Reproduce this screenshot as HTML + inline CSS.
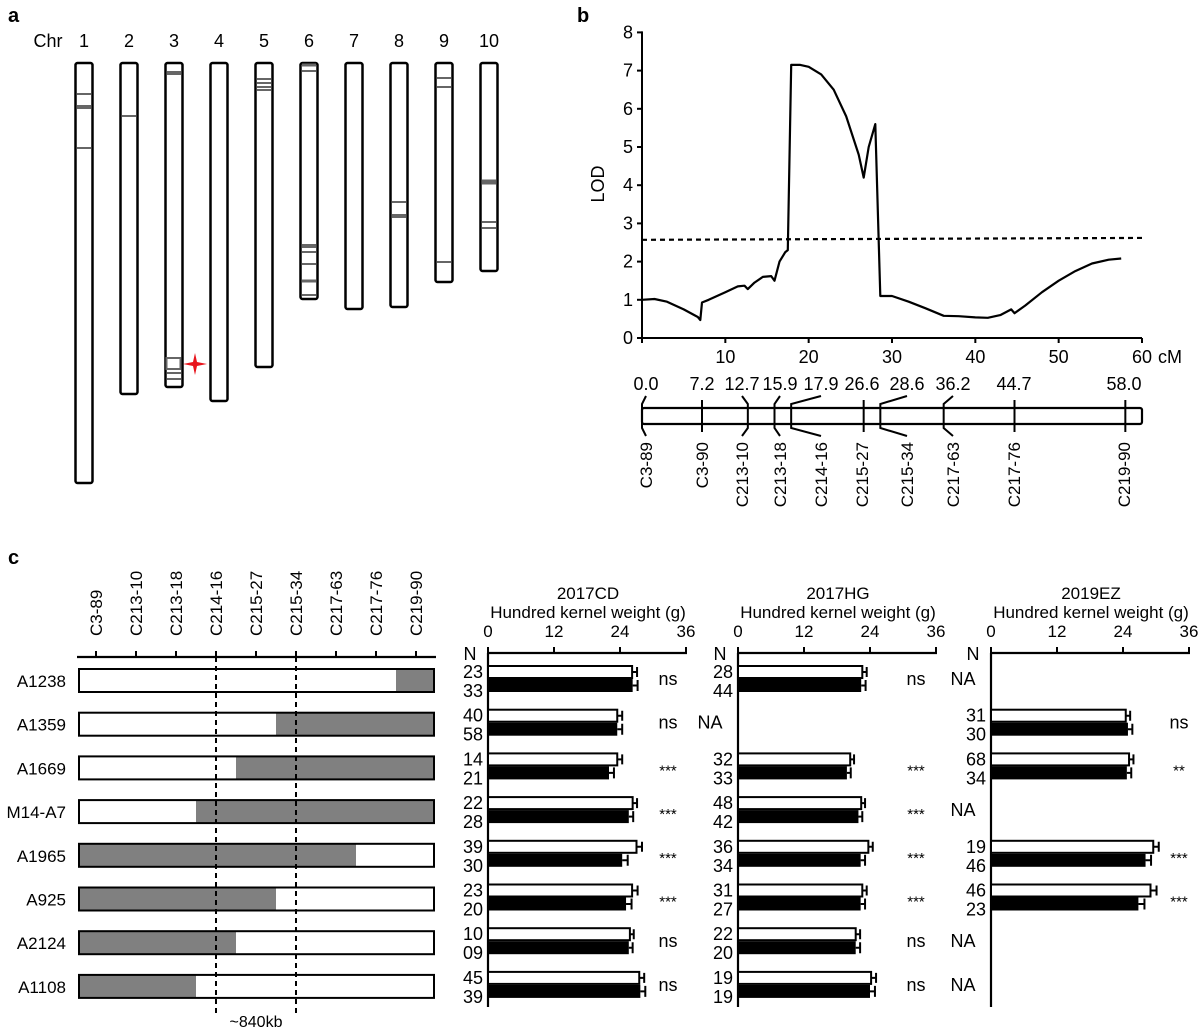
<!DOCTYPE html>
<html><head><meta charset="utf-8"><style>
html,body{margin:0;padding:0;background:#fff;}
svg{display:block;font-family:"Liberation Sans",Arial,sans-serif;}
</style></head><body>
<svg id="fig" width="1200" height="1035" viewBox="0 0 1200 1035" xmlns="http://www.w3.org/2000/svg">
<g id="pa"></g>
<g id="pb"></g>
<g id="pc"></g>
</svg>
<script>
// ===== Panel a data =====
const chrNames = ["1","2","3","4","5","6","7","8","9","10"];
const chrBottoms = [483,394,387,401,367,299,309,307,282,271];
const chrBands = [[[94,2],[107,4],[148,2]],[[116,2]],[[73,4],[373,2],[379,2]],[],[[79,2],[83,2],[87,2],[90,2]],[[65,3],[71,2],[246,4],[252,2],[264,2],[281,3],[295,2]],[],[[202,2],[216,4]],[[78,2],[87,2],[262,2]],[[182,5],[222,2],[228,2]]];
// ===== Panel b data =====
const lodCM = [0,1.5,3,5,6.7,7.0,7.2,8,10,11.5,12.3,12.7,13.5,14.5,15.5,15.9,16.5,17.2,17.5,17.9,19,20,21.5,23,24.5,26,26.6,27.2,28,28.6,30,32,34,36.2,38,40,41.5,43,44.3,44.7,46,48,50,52,54,56,57.5];
const lodVal = [1.0,1.02,0.95,0.75,0.55,0.47,0.93,1.0,1.2,1.35,1.37,1.28,1.45,1.6,1.62,1.5,2.0,2.25,2.3,7.15,7.15,7.1,6.9,6.5,5.8,4.8,4.2,5.0,5.6,1.1,1.1,0.95,0.78,0.58,0.57,0.54,0.53,0.6,0.75,0.65,0.85,1.2,1.5,1.75,1.95,2.05,2.08];
const thresholdVals = [2.57,2.62];
const yTicks = [0,1,2,3,4,5,6,7,8];
const xTicks = [10,20,30,40,50,60];
const markerCM = [0,7.2,12.7,15.9,17.9,26.6,28.6,36.2,44.7,58.0];
const markerCMLabels = ["0.0","7.2","12.7","15.9","17.9","26.6","28.6","36.2","44.7","58.0"];
const markerNames = ["C3-89","C3-90","C213-10","C213-18","C214-16","C215-27","C215-34","C217-63","C217-76","C219-90"];
// ===== Panel c data =====
const cMarkers = ["C3-89","C213-10","C213-18","C214-16","C215-27","C215-34","C217-63","C217-76","C219-90"];
const lines = ["A1238","A1359","A1669","M14-A7","A1965","A925","A2124","A1108"];
const grayFrom = [7.5,4.5,3.5,2.5,-0.5,-0.5,-0.5,-0.5];
const grayTo = [8.45,8.45,8.45,8.45,6.5,4.5,3.5,2.5];
const envNames = ["2017CD","2017HG","2019EZ"];
const hkwTicks = [0,12,24,36];
const whiteVals = [[26.2,23.5,23.5,26.3,27.0,26.2,25.8,27.5],[22.6,null,20.4,22.4,23.7,22.6,21.4,24.2],[null,24.5,25.1,null,29.5,29.0,null,null]];
const blackVals = [[26.3,23.5,22.0,25.6,24.4,25.1,25.6,27.7],[22.4,null,19.8,21.9,22.3,22.3,21.4,24.0],[null,24.9,24.7,null,28.1,26.8,null,null]];
const errVals = [[0.9,0.9,0.9,0.8,1.0,1.0,0.7,0.9],[0.8,null,0.7,0.7,0.8,0.8,0.8,0.9],[null,0.8,0.8,null,1.0,1.1,null,null]];
const whiteN = [["23","40","14","22","39","23","10","45"],["28",null,"32","48","36","31","22","19"],[null,"31","68",null,"19","46",null,null]];
const blackN = [["33","58","21","28","30","20","09","39"],["44",null,"33","42","34","27","20","19"],[null,"30","34",null,"46","23",null,null]];
const sigLabels = [["ns","ns","***","***","***","***","ns","ns"],["ns","NA","***","***","***","***","ns","ns"],["NA","ns","**","NA","***","***","NA","NA"]];

const NS="http://www.w3.org/2000/svg";
function mk(parent,tag,attrs,text){const e=document.createElementNS(NS,tag);for(const k in attrs)e.setAttribute(k,attrs[k]);if(text!==undefined)e.textContent=text;parent.appendChild(e);return e;}

// ===== Panel a =====
const pa=document.getElementById('pa');
let t=mk(pa,'text',{x:8,y:22,'font-size':20,'font-weight':'bold'},'a');


t=mk(pa,'text',{x:48,y:47,'font-size':18,'text-anchor':'middle'},'Chr');


chrNames.forEach((n,i)=>{
  const cx=84+45.0*i;
  const lt=mk(pa,'text',{x:cx,y:47,'font-size':18,'text-anchor':'middle'},n);
  
  
  const g=mk(pa,'g',{});
  
  
  mk(g,'rect',{x:cx-8.5,y:63,width:17,height:chrBottoms[i]-63,rx:2,fill:'#fff',stroke:'#000','stroke-width':2.5});
  chrBands[i].forEach(b=>{mk(g,'rect',{x:cx-7,y:b[0]-b[1]/2,width:14,height:b[1],fill:'#666'});});
});
mk(pa,'rect',{x:166.5,y:358,width:14,height:11,fill:'none',stroke:'#666','stroke-width':2});
const star=mk(pa,'path',{d:'M195,353 L197,362 L207,364 L197,366 L195,375 L193,366 L183,364 L193,362 Z',fill:'#e8141c'});



// ===== Panel b =====
const pb=document.getElementById('pb');
const bx0=642,bpx=500/60,by0=338,bpy=38.2;
const X=v=>bx0+v*bpx, Y=v=>by0-v*bpy;
t=mk(pb,'text',{x:577,y:22,'font-size':20,'font-weight':'bold'},'b');


t=mk(pb,'text',{x:604,y:184,'font-size':18,'text-anchor':'middle',transform:'rotate(-90 604 184)'},'LOD');


const ax=mk(pb,'g',{stroke:'#000','stroke-width':2,fill:'none'});


mk(ax,'line',{x1:bx0,y1:Y(8)-1,x2:bx0,y2:by0});
mk(ax,'line',{x1:bx0,y1:by0,x2:X(60),y2:by0});
yTicks.forEach(v=>{mk(ax,'line',{x1:bx0-5,y1:Y(v),x2:bx0,y2:Y(v)});
  const l=mk(pb,'text',{x:bx0-9,y:Y(v)+6,'font-size':18,'text-anchor':'end'},String(v));
  
  });
mk(ax,'line',{x1:bx0,y1:by0,x2:bx0,y2:by0+5});
xTicks.forEach(v=>{mk(ax,'line',{x1:X(v),y1:by0,x2:X(v),y2:by0+5});
  const l=mk(pb,'text',{x:X(v),y:by0+25,'font-size':18,'text-anchor':'middle'},String(v));
  
  });
t=mk(pb,'text',{x:X(60)+16,y:by0+25,'font-size':18},'cM');


const thr=mk(pb,'line',{x1:X(0),y1:Y(thresholdVals[0]),x2:X(60),y2:Y(thresholdVals[1]),stroke:'#000','stroke-width':2.2,'stroke-dasharray':'5,4'});


const lp=mk(pb,'path',{d:lodCM.map((c,i)=>(i?'L':'M')+X(c).toFixed(1)+','+Y(lodVal[i]).toFixed(1)).join(' '),fill:'none',stroke:'#000','stroke-width':2.2,'stroke-linejoin':'round'});


const mapG=mk(pb,'g',{});


mk(mapG,'rect',{x:X(0),y:408,width:X(60)-X(0),height:16,rx:2,fill:'none',stroke:'#000','stroke-width':2.2});
const labelX=[646,702,742,780,821,862,907,953,1014,1124];
markerCM.forEach((c,i)=>{
  const mx=X(c),lx=labelX[i];
  const d=(Math.abs(mx-lx)<3)?`M${mx},400 L${mx},432`:`M${lx},396 L${mx},404 L${mx},428 L${lx},436`;
  mk(mapG,'path',{d:d,fill:'none',stroke:'#000','stroke-width':2});
  const n=mk(pb,'text',{x:lx,y:390,'font-size':18,'text-anchor':'middle'},markerCMLabels[i]);
  
  
  const m=mk(pb,'text',{x:lx+6,y:442,'font-size':17,'text-anchor':'end',transform:`rotate(-90 ${lx+6} 442)`},markerNames[i]);
  
  
});

// ===== Panel c =====
const pc=document.getElementById('pc');
t=mk(pc,'text',{x:8,y:564,'font-size':20,'font-weight':'bold'},'c');


const MX=i=>96+40*i;
mk(pc,'line',{x1:77,y1:657,x2:436,y2:657,stroke:'#000','stroke-width':2.2});
cMarkers.forEach((m,i)=>{
  mk(pc,'line',{x1:MX(i),y1:651,x2:MX(i),y2:657,stroke:'#000','stroke-width':2});
  const l=mk(pc,'text',{x:MX(i)+6,y:636,'font-size':17,'text-anchor':'start',transform:`rotate(-90 ${MX(i)+6} 636)`},m);
  
  
});
const rowTop=i=>669+43.7*i;
lines.forEach((n,i)=>{
  const y=rowTop(i);
  const l=mk(pc,'text',{x:66,y:y+18,'font-size':17,'text-anchor':'end'},n);
  
  
  const g=mk(pc,'g',{});
  
  
  mk(g,'rect',{x:79,y:y,width:355,height:23,fill:'#fff'});
  const gx1=Math.max(79,MX(grayFrom[i])),gx2=Math.min(434,MX(grayTo[i]));
  mk(g,'rect',{x:gx1,y:y,width:gx2-gx1,height:23,fill:'#808080'});
  mk(g,'rect',{x:79,y:y,width:355,height:23,fill:'none',stroke:'#000','stroke-width':2});
});
mk(pc,'line',{x1:MX(3),y1:657,x2:MX(3),y2:1015,stroke:'#000','stroke-width':2,'stroke-dasharray':'5,4'});
mk(pc,'line',{x1:MX(5),y1:657,x2:MX(5),y2:1015,stroke:'#000','stroke-width':2,'stroke-dasharray':'5,4'});
t=mk(pc,'text',{x:256,y:1027,'font-size':16,'text-anchor':'middle'},'~840kb');



const axX=[488,738,991],axW=198,axTop=653,axBot=1007;
const sigOff=[180,178,188];
envNames.forEach((env,p)=>{
  const x0=axX[p],S=v=>x0+v*axW/36;
  const g=mk(pc,'g',{});
  
  
  const tt=mk(g,'text',{x:x0+100,y:599,'font-size':17,'text-anchor':'middle'},env);
  
  
  const st=mk(g,'text',{x:x0+100,y:618,'font-size':17,'text-anchor':'middle'},'Hundred kernel weight (g)');
  
  
  mk(g,'line',{x1:x0,y1:axTop,x2:S(36)+1,y2:axTop,stroke:'#000','stroke-width':2.2});
  mk(g,'line',{x1:x0,y1:axTop,x2:x0,y2:axBot,stroke:'#000','stroke-width':2.2});
  hkwTicks.forEach(v=>{mk(g,'line',{x1:S(v),y1:axTop-6,x2:S(v),y2:axTop,stroke:'#000','stroke-width':2});
    const l=mk(g,'text',{x:S(v),y:637,'font-size':17,'text-anchor':'middle'},String(v));
    
    });
  const nl=mk(g,'text',{x:x0-18,y:660,'font-size':18,'text-anchor':'middle'},'N');
  
  
  lines.forEach((n,i)=>{
    const y=666+43.7*i;
    const wv=whiteVals[p][i],bv=blackVals[p][i],e=errVals[p][i];
    if(wv!==null){
      const wb=mk(g,'rect',{x:x0,y:y,width:S(wv)-x0,height:12,fill:'#fff',stroke:'#000','stroke-width':2});
      
      
      const bb=mk(g,'rect',{x:x0,y:y+13,width:S(bv)-x0,height:13,fill:'#000'});
      
      
      mk(g,'path',{d:`M${S(wv)},${y+6} H${S(wv+e)} M${S(wv+e)},${y+1} V${y+11}`,stroke:'#000','stroke-width':2,fill:'none'});
      mk(g,'path',{d:`M${S(bv)},${y+19.5} H${S(bv+e)} M${S(bv+e)},${y+14} V${y+25}`,stroke:'#000','stroke-width':2,fill:'none'});
      const n1=mk(g,'text',{x:x0-5,y:y+12,'font-size':18,'text-anchor':'end'},whiteN[p][i]);
      
      
      const n2=mk(g,'text',{x:x0-5,y:y+31,'font-size':18,'text-anchor':'end'},blackN[p][i]);
      
      
    }
    const s=sigLabels[p][i];
    let sx=s==='NA'?x0-28:x0+sigOff[p], sy=s.indexOf('*')>=0?y+22:y+19;
    const sl=mk(g,'text',{x:sx,y:sy,'font-size':s.indexOf('*')>=0?15:18,'text-anchor':'middle'},s);
    
    
  });
});
</script>
</body></html>
